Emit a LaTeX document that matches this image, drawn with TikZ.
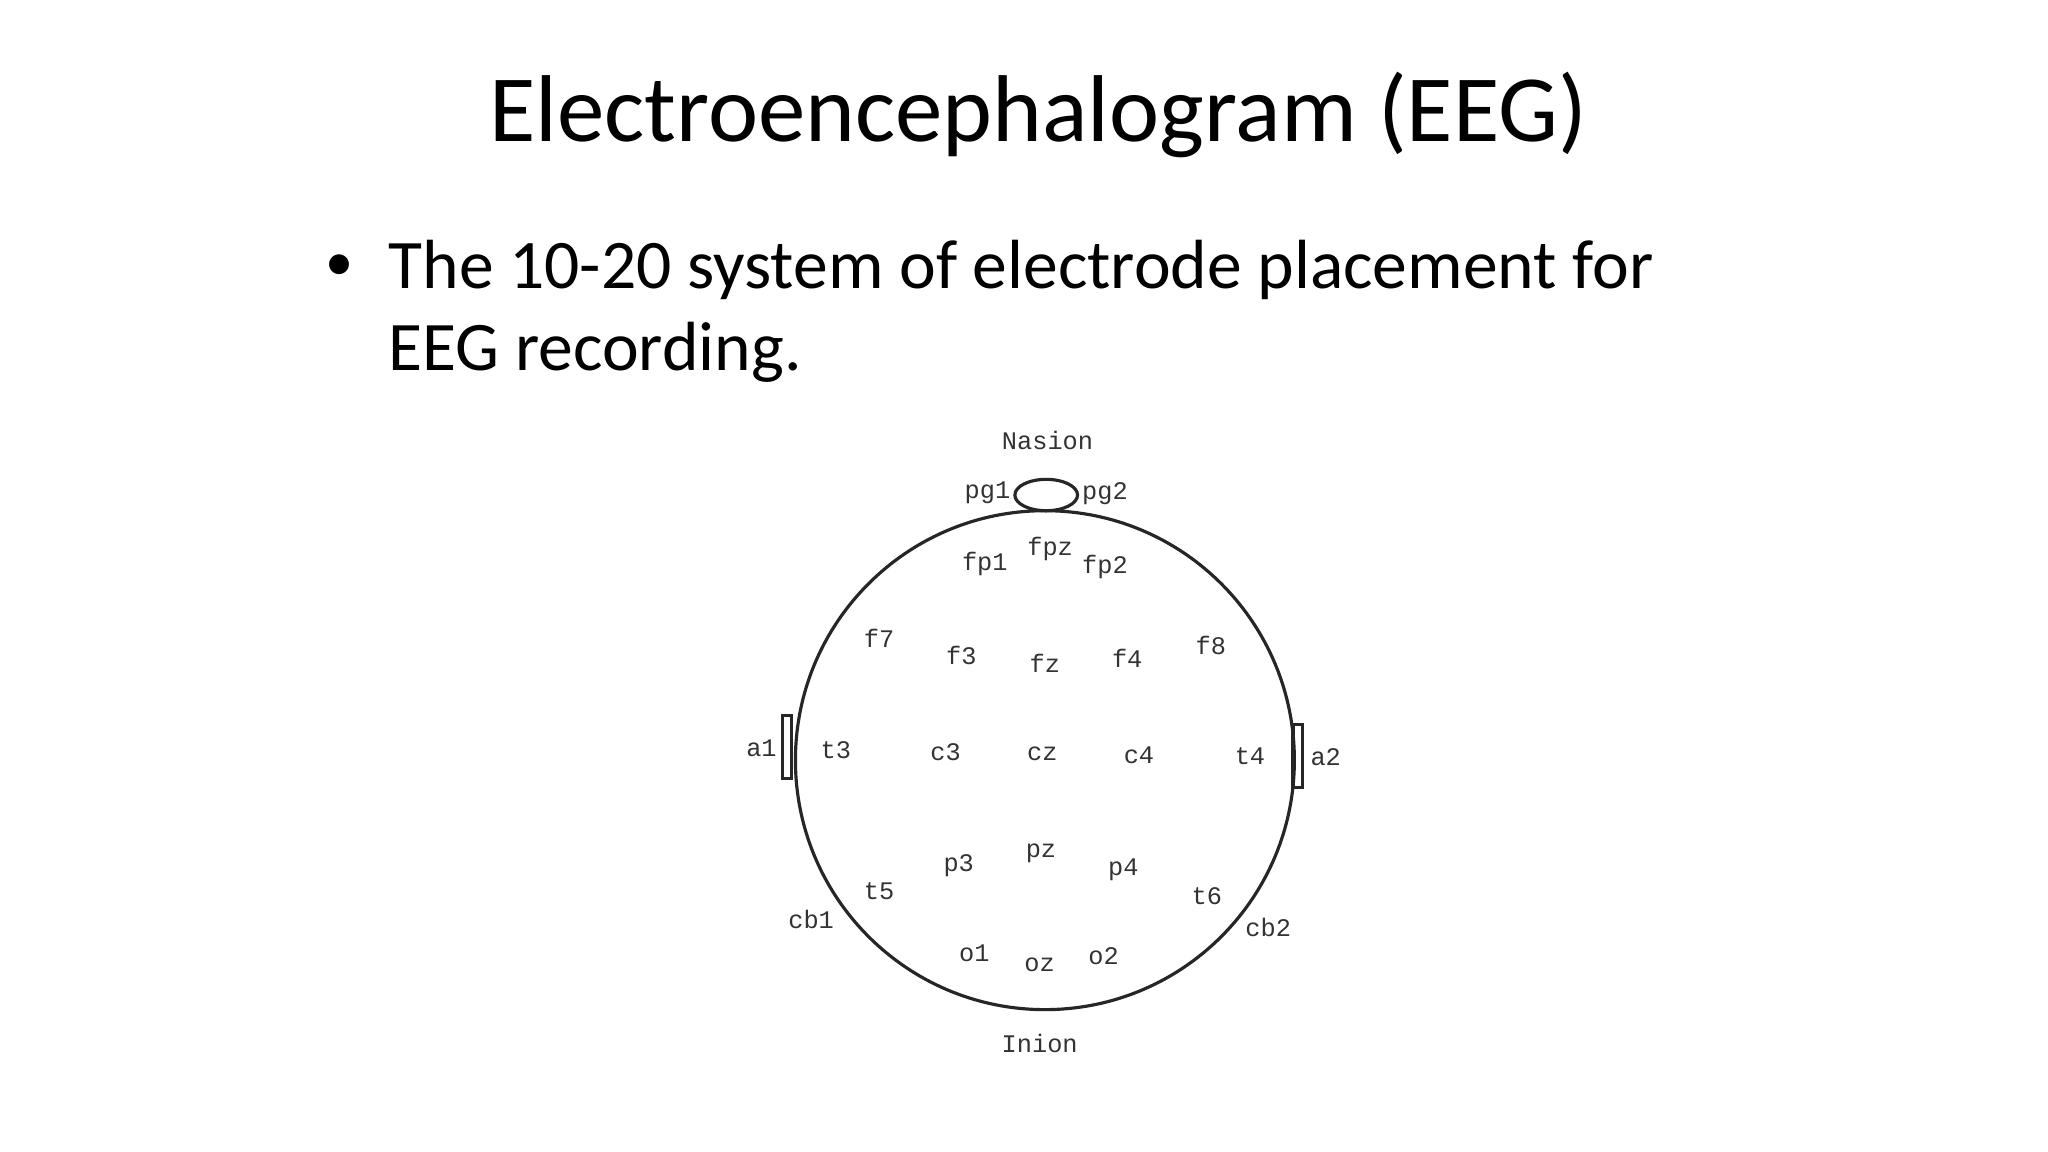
\documentclass[tikz,border=0pt]{standalone}
\usepackage{fontspec}
\usetikzlibrary{shapes.geometric}
\setmainfont{Carlito}
\newfontfamily\monof{Liberation Mono}
\begin{document}
\begin{tikzpicture}[x=0.01306cm,y=-0.01306cm,
  lab/.style={font=\monof\fontsize{7.2}{8}\selectfont, text=black!80, inner sep=0pt},
  ln/.style={line width=0.9pt, draw=black!85}]
\useasboundingbox[fill=white] (0,0) rectangle (1568,882);
\node[font=\fontsize{27}{30}\selectfont, anchor=base] (title) at (795,108) {Electroencephalogram (EEG)};
\node[font=\fontsize{16}{24}\selectfont, anchor=base] (bul) at (260,215) {\textbullet};
\node[font=\fontsize{19.8}{24}\selectfont, anchor=base west, inner sep=0pt] (l1) at (297,221) {The 10-20 system of electrode placement for};
\node[font=\fontsize{19.8}{24}\selectfont, anchor=base west, inner sep=0pt] (l2) at (297,284) {EEG recording.};
\node[ln, draw, circle, minimum size=382*0.01306cm, inner sep=0pt] (head) at (800,582) {};
\node[ln, draw, ellipse, minimum width=48*0.01306cm, minimum height=24*0.01306cm, inner sep=0pt] (nose) at (801,379) {};
\draw[ln] (599,548) rectangle (606,596);
\draw[ln] (990,555) rectangle (997,603);
\foreach \t/\x/\y in {Nasion/802/337, pg1/756/377, pg2/846/378, fp1/754/432, fpz/804/420, fp2/846/434, f7/673/489, f3/736/502, fz/800/508, f4/863/504, f8/927/494, a1/583/573, t3/640/574, c3/724/576, cz/798/577, c4/872/578, t4/957/579, a2/1015/580, pz/797/653, p3/734/663, p4/860/666, t5/673/682, t6/924/686, cb1/621/704, cb2/971/710, o1/746/730, oz/796/739, o2/845/732, Inion/796/799}
  \node[lab] (n\t) at (\x,\y) {\t};
\end{tikzpicture}
\end{document}
